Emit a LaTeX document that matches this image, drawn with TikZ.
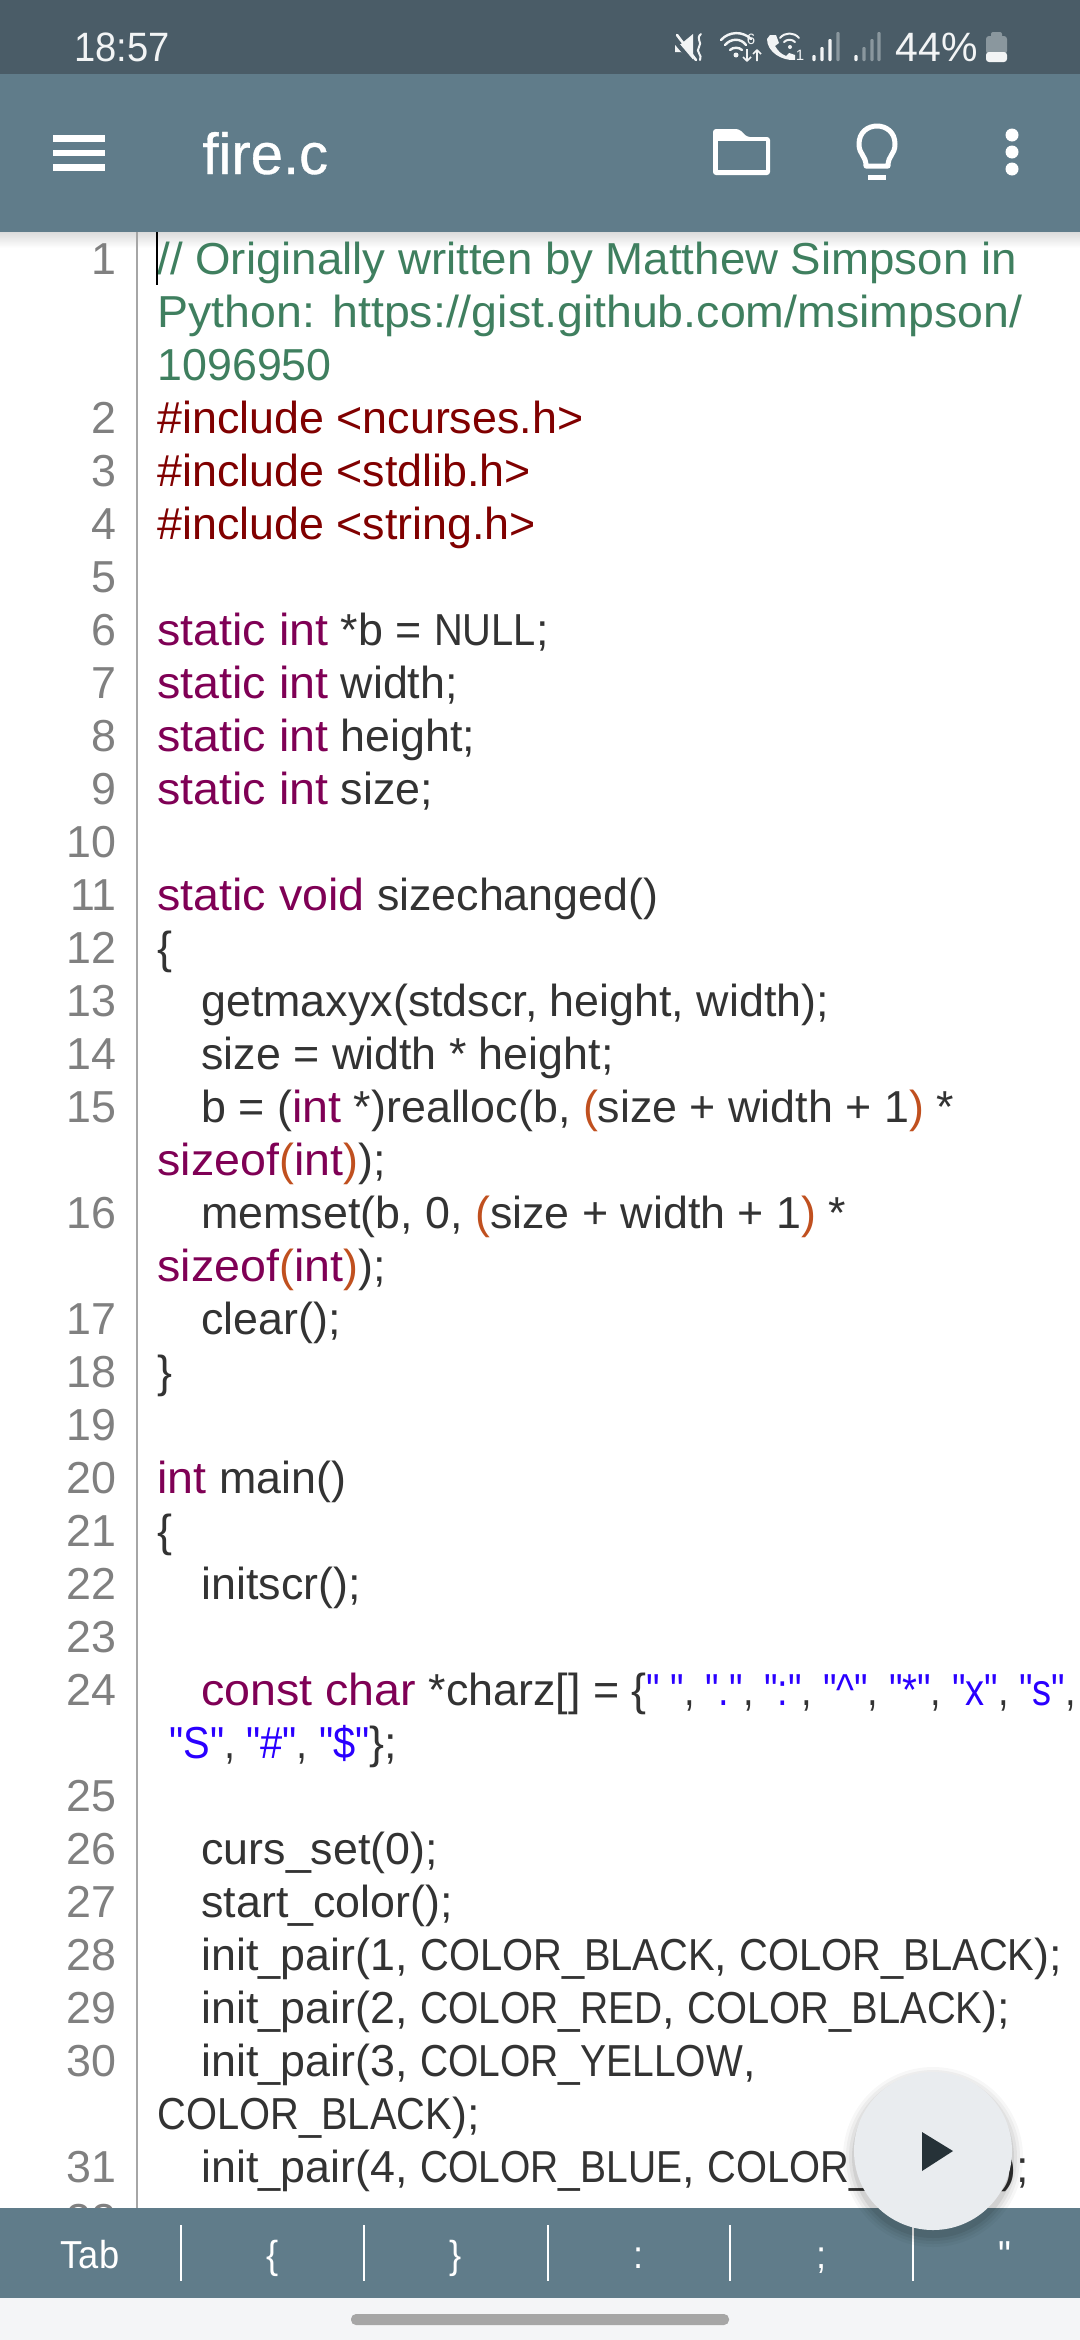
\documentclass[tikz,border=0pt]{standalone}
\usepackage{fontspec}
\newfontfamily\codefont{Liberation Sans}
\newfontfamily\capsfont[FakeStretch=0.89]{Liberation Sans}
\newfontfamily\tightcaps[FakeStretch=0.87]{Liberation Sans}
\newfontfamily\strfont[FakeStretch=0.85]{Liberation Sans}
\newfontfamily\kwdfont[FakeStretch=1.04]{Liberation Sans}
\newfontfamily\cmtfont[FakeStretch=1.018]{Liberation Sans}
\newfontfamily\urlfont[FakeStretch=1.038]{Liberation Sans}
\newfontfamily\statusfont[FakeStretch=0.93]{Liberation Sans}
\newfontfamily\titlefont[FakeBold=0.6]{Liberation Sans}
\definecolor{statusbar}{HTML}{4A5C67}
\definecolor{appbar}{HTML}{607C8A}
\definecolor{gutter}{HTML}{A6A6A6}
\definecolor{numcol}{HTML}{808080}
\definecolor{txtcol}{HTML}{333333}
\definecolor{kwdcol}{HTML}{7F0055}
\definecolor{cmtcol}{HTML}{3F7F5F}
\definecolor{prpcol}{HTML}{800000}
\definecolor{strcol}{HTML}{2A00FF}
\definecolor{brkcol}{HTML}{C0501F}
\definecolor{fabcol}{HTML}{E9ECEF}
\definecolor{playcol}{HTML}{263238}
\definecolor{navbar}{HTML}{F4F5F7}
\definecolor{iconwhite}{HTML}{F2F4F5}
\definecolor{icongray}{HTML}{8A979E}
\newcommand{\kwd}[1]{\textcolor{kwdcol}{\kwdfont #1}}
\newcommand{\cmt}[1]{\textcolor{cmtcol}{#1}}
\newcommand{\prp}[1]{\textcolor{prpcol}{#1}}
\newcommand{\strg}[1]{\textcolor{strcol}{#1}}
\newcommand{\brk}[1]{\textcolor{brkcol}{#1}}
\newcommand{\up}[1]{{\capsfont #1}}
\newcommand{\upt}[1]{{\tightcaps #1}}
\tikzset{
	codeline/.style={anchor=base west, inner sep=0, text=txtcol, font=\codefont\fontsize{22.4}{26}\selectfont},
	lineno/.style={anchor=base east, inner sep=0, text=numcol, font=\codefont\fontsize{22.4}{26}\selectfont},
	keylabel/.style={anchor=base, inner sep=0, text=white, font=\statusfont\fontsize{19.5}{22}\selectfont},
	statuslabel/.style={anchor=base west, inner sep=0, text=iconwhite, font=\statusfont\fontsize{20.5}{24}\selectfont},
	keysep/.style={draw=white, line width=1pt},
	icon/.style={draw=white, line width=2.5pt}
}
\begin{document}
\begin{tikzpicture}[x=0.5pt, y=-0.5pt, line join=round]
	\useasboundingbox (0,0) rectangle (1080,2340);
	%% bar shadow
	\shade[top color=black!14, bottom color=white] (0,232) rectangle (1080,248);
	%% gutter
	\draw[gutter, line width=1pt] (137,232) -- (137,2208);
	%% line numbers
	\foreach \n/\y in {1/274,2/433,3/486,4/539,5/592,6/645,7/698,8/751,9/804,10/857,
		11/910,12/963,13/1016,14/1069,15/1122,16/1228,17/1334,18/1387,19/1440,20/1493,
		21/1546,22/1599,23/1652,24/1705,25/1811,26/1864,27/1917,28/1970,29/2023,30/2076,
		31/2182,32/2235}
	\node[lineno] (ln\n) at (117,\y) {\n};
	%% code lines
	\node[codeline] (c1) at (157,274) {\cmtfont\cmt{// Originally written by Matthew Simpson in}};
	\node[codeline] (c1b) at (157,327) {\urlfont\cmt{Python: https://gist.github.com/msimpson/}};
	\node[codeline] (c1c) at (157,380) {\cmt{1096950}};
	\node[codeline] (c2) at (157,433) {\prp{\#include <ncurses.h>}};
	\node[codeline] (c3) at (157,486) {\prp{\#include <stdlib.h>}};
	\node[codeline] (c4) at (157,539) {\prp{\#include <string.h>}};
	\node[codeline] (c6) at (157,645) {\kwd{static int} *b = \up{NULL};};
	\node[codeline] (c7) at (157,698) {\kwd{static int} width;};
	\node[codeline] (c8) at (157,751) {\kwd{static int} height;};
	\node[codeline] (c9) at (157,804) {\kwd{static int} size;};
	\node[codeline] (c11) at (157,910) {\kwd{static void} sizechanged()};
	\node[codeline] (c12) at (157,963) {\{};
	\node[codeline] (c13) at (201,1016) {getmaxyx(stdscr, height, width);};
	\node[codeline] (c14) at (201,1069) {size = width * height;};
	\node[codeline] (c15) at (201,1122) {b = (\kwd{int} *)realloc(b, \brk{(}size + width + 1\brk{)} *};
	\node[codeline] (c15b) at (157,1175) {\kwd{sizeof}\brk{(}\kwd{int}\brk{)});};
	\node[codeline] (c16) at (201,1228) {memset(b, 0, \brk{(}size + width + 1\brk{)} *};
	\node[codeline] (c16b) at (157,1281) {\kwd{sizeof}\brk{(}\kwd{int}\brk{)});};
	\node[codeline] (c17) at (201,1334) {clear();};
	\node[codeline] (c18) at (157,1387) {\}};
	\node[codeline] (c20) at (157,1493) {\kwd{int} main()};
	\node[codeline] (c21) at (157,1546) {\{};
	\node[codeline] (c22) at (201,1599) {initscr();};
	\node[codeline] (c24) at (201,1705) {\kwd{const char} *charz[] = \{{\strfont\strg{" "}, \strg{"."}, \strg{":"}, \strg{"\textasciicircum"}, \strg{"*"}, \strg{"x"}, \strg{"s"},}};
	\node[codeline] (c24b) at (169,1758) {{\capsfont\strg{"S"}, \strg{"\#"}, \strg{"\$"}}\};};
	\node[codeline] (c26) at (201,1864) {curs\_set(0);};
	\node[codeline] (c27) at (201,1917) {start\_color();};
	\node[codeline] (c28) at (201,1970) {init\up{\_}pair(1, \up{COLOR\_BLACK}, \up{COLOR\_BLACK});};
	\node[codeline] (c29) at (201,2023) {init\up{\_}pair(2, \upt{COLOR\_RED}, \up{COLOR\_BLACK});};
	\node[codeline] (c30) at (201,2076) {init\up{\_}pair(3, \upt{COLOR\_YELLOW},};
	\node[codeline] (c30b) at (157,2129) {\up{COLOR\_BLACK});};
	\node[codeline] (c31) at (201,2182) {init\up{\_}pair(4, \upt{COLOR\_BLUE}, \up{COLOR\_BLACK});};
	%% cursor
	\draw[black, line width=1pt] (157,232) -- (157,285);
	%% top bars
	\fill[statusbar] (0,0) rectangle (1080,74);
	\fill[appbar] (0,74) rectangle (1080,232);
	\node[statuslabel] (clock) at (74,61) {18:57};
	\node[statuslabel, font=\codefont\fontsize{20.5}{24}\selectfont] (battext) at (895,61) {44\%};
	\node[anchor=base west, inner sep=0, text=white, font=\titlefont\fontsize{29}{32}\selectfont] (title) at (202,174) {fire.c};
	%% menu icon
	\foreach \y in {135,149.5,164}
	\fill[white] (53,\y) rectangle (105,\y+6.5);
	%% folder icon
	\fill[white, rounded corners=1.5pt] (713,175) -- (713,129) -- (739,129) -- (747,137) -- (770,137) -- (770,175) -- cycle;
	\fill[appbar] (718,141) rectangle (766,170);
	%% bulb icon
	\draw[icon] (866,166) .. controls (866,155) and (859,155) .. (859,144)
		.. controls (859,120) and (895,120) .. (895,144)
		.. controls (895,155) and (888,155) .. (888,166) -- cycle;
	\fill[white] (868,175) rectangle (886,180);
	%% overflow dots
	\foreach \y in {135,152,169}
	\fill[white] (1012,\y) circle (6.5);
	%% mute icon
	\fill[iconwhite] (675,44) -- (681,44) -- (693,34) -- (693,60) -- (681,52) -- (675,52) -- cycle;
	\draw[statusbar, line width=2pt] (672,38) -- (694,64);
	\draw[iconwhite, line width=1.3pt, line cap=round] (677,35) -- (696,60);
	\draw[iconwhite, line width=1pt, line cap=round] (701,34) .. controls (695,39) and (703,42) .. (699,47)
		.. controls (695,52) and (703,55) .. (700,60);
	%% wifi icon
	\fill[iconwhite] (736,55) circle (2.5);
	\draw[iconwhite, line width=1.2pt, line cap=round] (721,40) .. controls (729,31) and (743,31) .. (751,39);
	\draw[iconwhite, line width=1.2pt, line cap=round] (725,45) .. controls (731,38) and (741,38) .. (746,45);
	\draw[iconwhite, line width=1.2pt, line cap=round] (730,50) .. controls (733,47) and (739,47) .. (742,50);
	\node[inner sep=0, text=iconwhite, font=\codefont\fontsize{7.5}{9}\selectfont] (wifisix) at (751,39) {6};
	\draw[iconwhite, line width=.8pt] (747,49) -- (747,61) (743,57) -- (747,61) -- (751,57);
	\draw[iconwhite, line width=.8pt] (757,61) -- (757,50) (753,54) -- (757,50) -- (761,54);
	%% phone icon
	\fill[iconwhite] (770,35) -- (776,35) -- (779,43) -- (775,46) .. controls (778,51) and (781,54) .. (786,56)
		-- (789,53) -- (795,55) -- (795,60) .. controls (782,61) and (767,52) .. (767,39) -- cycle;
	\draw[iconwhite, line width=1pt, line cap=round] (780,38) .. controls (785,32) and (794,32) .. (799,38);
	\draw[iconwhite, line width=1pt, line cap=round] (784,42) .. controls (787,39) and (792,39) .. (795,42);
	\fill[iconwhite] (790,47) circle (2);
	\node[inner sep=0, text=iconwhite, font=\codefont\fontsize{7.5}{9}\selectfont] (callone) at (800,55) {1};
	%% signal bars
	\foreach \x/\t/\c in {814/55/iconwhite,822/47/iconwhite,830/39/iconwhite,838/32/icongray,
		856/55/iconwhite,864/47/icongray,872/39/icongray,879/32/icongray}
	\fill[\c, rounded corners=.5pt] (\x-1.7,\t) rectangle (\x+1.7,61);
	%% battery icon
	\fill[icongray, rounded corners=1pt] (991,32) rectangle (1002,38);
	\fill[icongray, rounded corners=1.5pt] (986,36) rectangle (1007,54);
	\fill[iconwhite, rounded corners=1.5pt] (986,52) rectangle (1007,62);
	%% bottom bars
	\fill[appbar] (0,2208) rectangle (1080,2298);
	\fill[navbar] (0,2298) rectangle (1080,2340);
	\fill[black!35, rounded corners=2.5pt] (351,2314) rectangle (729,2325);
	%% keys
	\foreach \x/\g/\k in {90/Tab/kt,273/\{/ko,456/\}/kc,639/:/kd,822/;/ks,1005/"/kq}
	\node[keylabel] (\k) at (\x,2268) {\g};
	\foreach \x in {181,364,547.5,730,913}
	\draw[keysep] (\x,2225) -- (\x,2281);
	%% run button
	\foreach \r/\o in {90/.03,87/.04,84/.05,81/.07}
	\fill[black, opacity=\o] (933,2157) circle (\r);
	\fill[fabcol] (933,2151) circle (79);
	\fill[playcol] (922,2132) -- (953,2151) -- (922,2171) -- cycle;
\end{tikzpicture}
\end{document}
